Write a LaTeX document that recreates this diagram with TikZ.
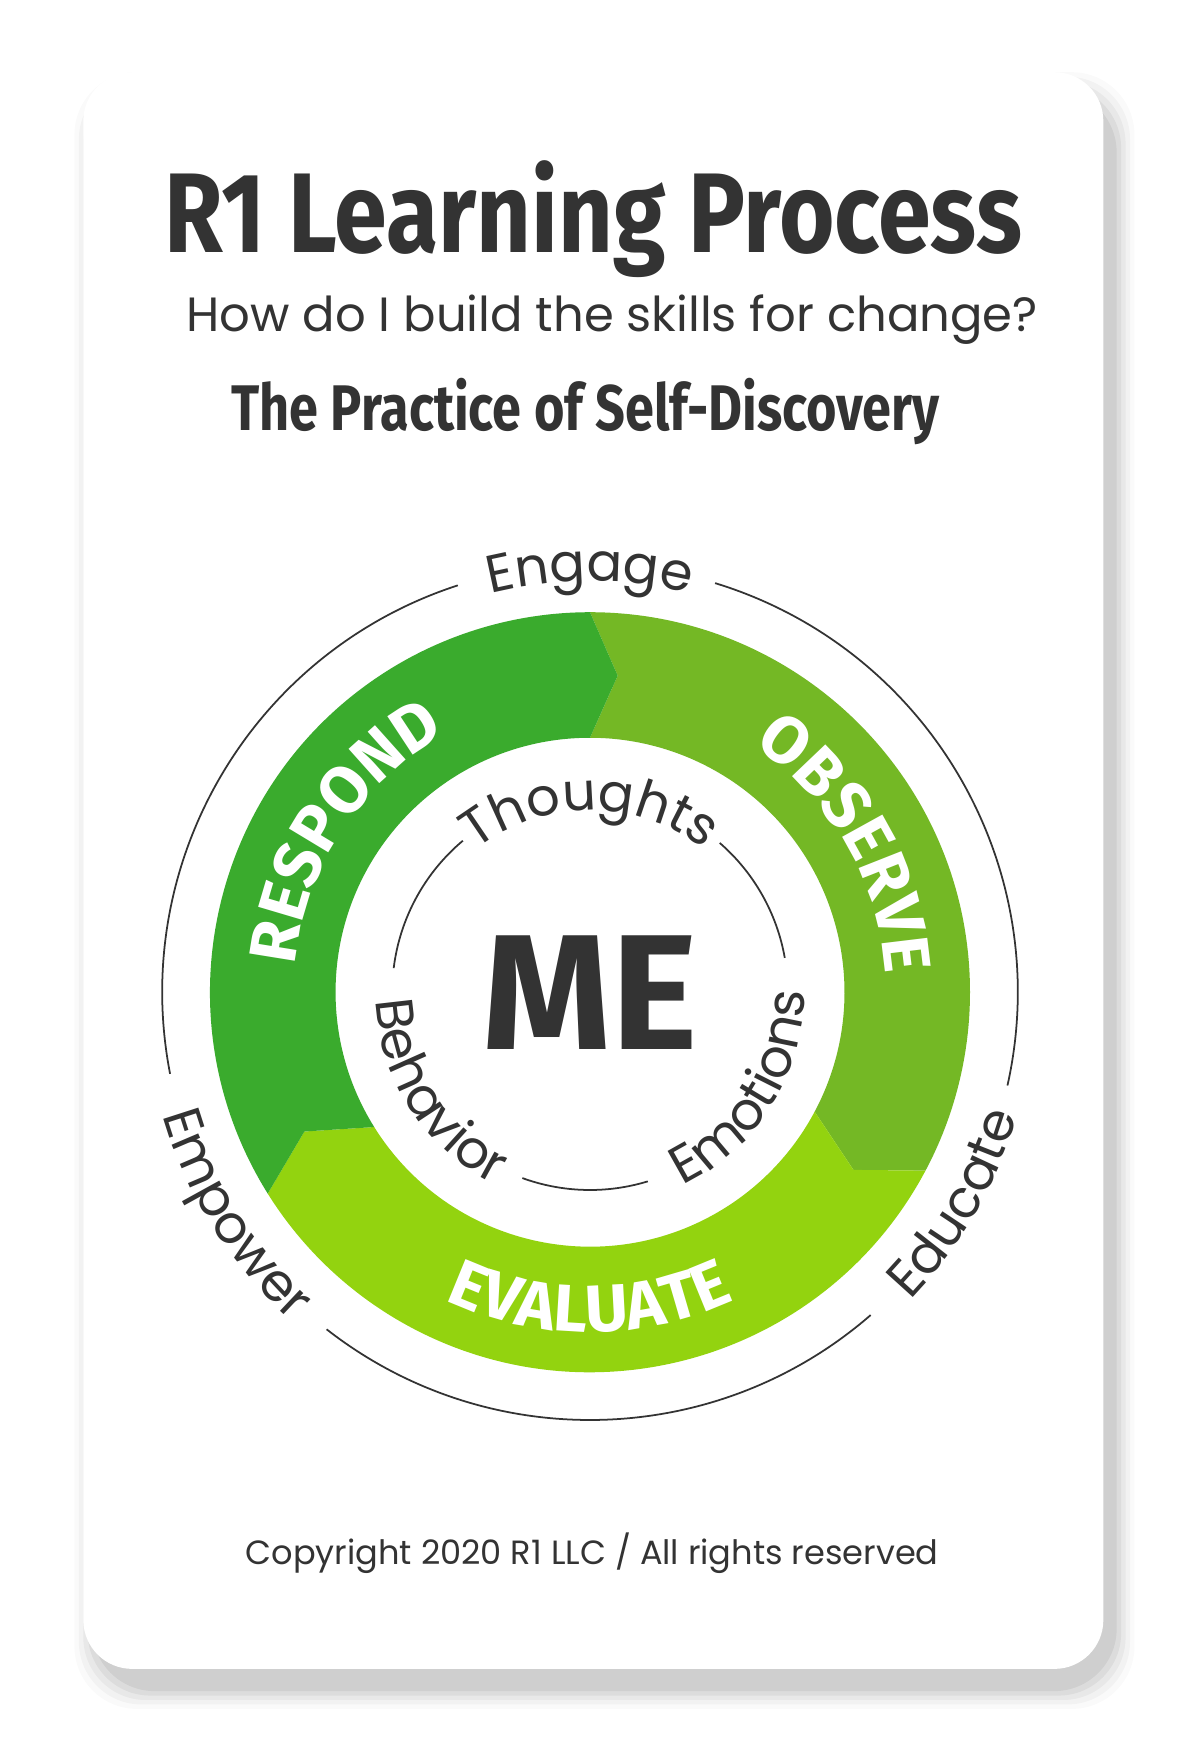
\documentclass[tikz,border=0pt]{standalone}
\usepackage{fontspec}
\setmainfont{Poppins}
\newfontfamily\fira{Fira Sans}
\usetikzlibrary{decorations.text}
\definecolor{ink}{HTML}{333333}
\definecolor{gA}{HTML}{3AAB2D}
\definecolor{gB}{HTML}{74B825}
\definecolor{gC}{HTML}{93D30F}
\tikzset{
  thin line/.style={draw=ink,line width=0.45pt},
  ringlbl/.style={decorate,decoration={text along path,text align=center,text color=white,
     text={|\fira\bfseries\fontsize{17}{17}\selectfont|#1}}},
  outlbl/.style={decorate,decoration={text along path,text align=center,text color=ink,
     text={|\fontsize{13.5}{13.5}\selectfont|#1}}},
  inlbl/.style={decorate,decoration={text along path,text align=center,text color=ink,
     text={|\fontsize{13.5}{13.5}\selectfont|#1}}},
}
\begin{document}
\begin{tikzpicture}[x=0.01cm,y=0.01cm]
\useasboundingbox (0,0) rectangle (1060,1566);
\fill[white] (0,0) rectangle (1060,1566);
% shadow
\foreach \i/\o in {18/0.02,14/0.03,10/0.04,6/0.05,2/0.06}{
  \fill[black,opacity=\o,rounded corners=16pt] (75+10-\i,64-18-\i) rectangle (993+10+\i,1501-18+\i);
}
\node[draw=none,fill=white,rounded corners=12.5pt,minimum width=918*0.01cm,minimum height=1437*0.01cm] (card) at (534,782.5) {};
% title
\node[text=ink,xscale=0.84] (title) at (534,1369) {\fira\bfseries\fontsize{29}{29}\selectfont R1 Learning Process};
\node[text=ink] (sub) at (551,1278) {\fontsize{12.3}{12.3}\selectfont How do I build the skills for change?};
\node[text=ink,xscale=0.81] (prac) at (527,1196) {\fira\bfseries\fontsize{16.5}{16.5}\selectfont The Practice of Self-Discovery};
\coordinate (O) at (531,673);
% ring segments
\fill[gB] ([shift={(O)}]90:342) arc[start angle=90,end angle=-28,radius=342]
  -- ([shift={(O)}]-34:286) -- ([shift={(O)}]-28:229) arc[start angle=-28,end angle=90,radius=229]
  -- ([shift={(O)}]85:286) -- cycle;
\fill[gC] ([shift={(O)}]-28:342) arc[start angle=-28,end angle=-148,radius=342]
  -- ([shift={(O)}]-154:286) -- ([shift={(O)}]-148:229) arc[start angle=-148,end angle=-28,radius=229]
  -- ([shift={(O)}]-34:286) -- cycle;
\fill[gA] ([shift={(O)}]-148:342) arc[start angle=-148,end angle=-270,radius=342]
  -- ([shift={(O)}]-275:286) -- ([shift={(O)}]-270:229) arc[start angle=-270,end angle=-148,radius=229]
  -- ([shift={(O)}]-154:286) -- cycle;
% ring labels
\path[ringlbl={RESPOND}] ([shift={(O)}]197:266) arc[start angle=197,end angle=97,radius=266];
\path[ringlbl={OBSERVE}] ([shift={(O)}]80:266) arc[start angle=80,end angle=-20,radius=266];
\path[ringlbl={EVALUATE}] ([shift={(O)}]220:306) arc[start angle=220,end angle=320,radius=306];
% outer circle
\draw[thin line] ([shift={(O)}]73:385) arc[start angle=73,end angle=-12.6,radius=385];
\draw[thin line] ([shift={(O)}]-49:385) arc[start angle=-49,end angle=-128,radius=385];
\draw[thin line] ([shift={(O)}]-169:385) arc[start angle=-169,end angle=-252,radius=385];
\path[outlbl={Engage}] ([shift={(O)}]120:370) arc[start angle=120,end angle=60,radius=370];
\path[outlbl={Educate}] ([shift={(O)}]-60:400) arc[start angle=-60,end angle=0,radius=400];
\path[outlbl={Empower}] ([shift={(O)}]182:400) arc[start angle=182,end angle=242,radius=400];
% inner circle
\draw[thin line] ([shift={(O)}]49:178) arc[start angle=49,end angle=10,radius=178];
\draw[thin line] ([shift={(O)}]-73:178) arc[start angle=-73,end angle=-110,radius=178];
\draw[thin line] ([shift={(O)}]173:178) arc[start angle=173,end angle=130,radius=178];
\path[inlbl={Thoughts}] ([shift={(O)}]140:164) arc[start angle=140,end angle=40,radius=164];
\path[inlbl={Emotions}] ([shift={(O)}]-82:193) arc[start angle=-82,end angle=18,radius=193];
\path[inlbl={Behavior}] ([shift={(O)}]163:193) arc[start angle=163,end angle=263,radius=193];
\node[text=ink] (me) at (O) {\fira\bfseries\fontsize{42}{42}\selectfont ME};
\node[text=ink] (copy) at (533,168) {\fontsize{8.6}{8.6}\selectfont Copyright 2020 R1 LLC / All rights reserved};
\end{tikzpicture}
\end{document}
